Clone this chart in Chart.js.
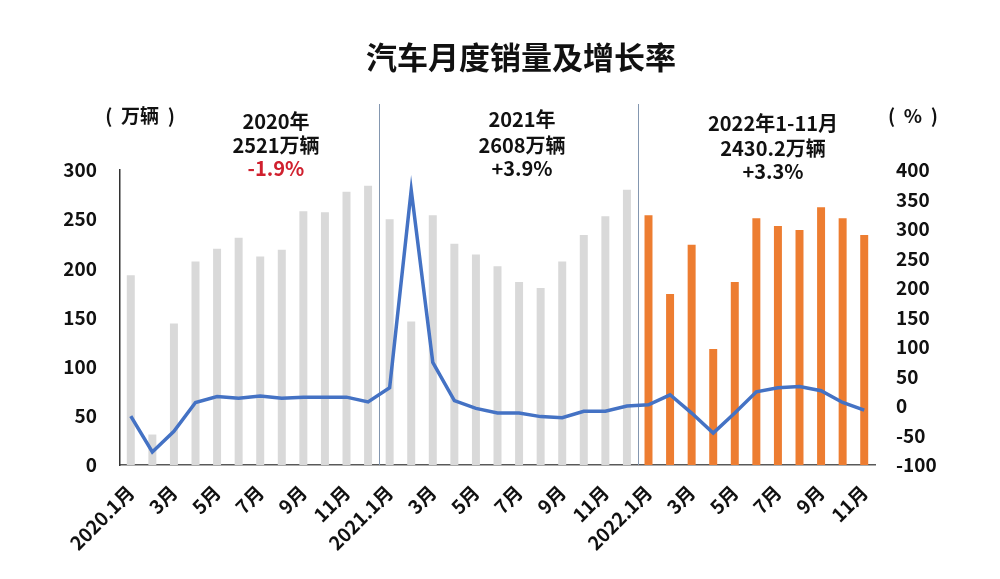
<!DOCTYPE html>
<html>
<head>
<meta charset="utf-8">
<script src="https://cdn.jsdelivr.net/npm/chart.js@4/dist/chart.umd.min.js"></script>
<style>
  html, body { margin: 0; padding: 0; background: #ffffff; }
  #wrap { width: 1000px; height: 579px; position: relative; }
</style>
</head>
<body>
<div id="wrap"><canvas id="c" width="1000" height="579"></canvas></div>
<script>
// ---- data ----
const categories = [
  '2020.1月','2月','3月','4月','5月','6月','7月','8月','9月','10月','11月','12月',
  '2021.1月','2月','3月','4月','5月','6月','7月','8月','9月','10月','11月','12月',
  '2022.1月','2月','3月','4月','5月','6月','7月','8月','9月','10月','11月'
];
const sales2020 = [193, 31, 144, 207, 220, 231, 212, 219, 258, 257, 278, 284];
const sales2021 = [250, 146, 254, 225, 214, 202, 186, 180, 207, 234, 253, 280];
const sales2022 = [254, 174, 224, 118, 186, 251, 243, 239, 262, 251, 234];
const growth2020 = [-17, -78, -43, 6, 16, 13, 17, 13, 15, 15, 15, 7];
const growth2021 = [31, 366, 74, 9, -4, -12, -12, -18, -20, -9, -9, 0];
const growth2022 = [2, 19, -12, -46, -12, 24, 31, 33, 26, 6, -7];
const leftTicks = { min: 0, max: 300, step: 50 };
const rightTicks = { min: -100, max: 400, step: 50 };
const titleText = '汽车月度销量及增长率';
const leftUnit = '(  万辆  )';
const rightUnit = '(  %  )';
const yearNotes = [
  ['2020年', '2521万辆', '-1.9%'],
  ['2021年', '2608万辆', '+3.9%'],
  ['2022年1-11月', '2430.2万辆', '+3.3%']
];

// ---- derived ----
const sales = sales2020.concat(sales2021, sales2022);
const growth = growth2020.concat(growth2021, growth2022);
const GREY = '#d9d9d9', ORANGE = '#ed7d31';
const barColors = sales.map((v, i) => i < sales2020.length + sales2021.length ? GREY : ORANGE);
const FONT = "'Noto Sans CJK SC', 'Noto Sans', sans-serif";

const overlay = {
  id: 'overlay',
  beforeDatasetsDraw(chart) {
    const ctx = chart.ctx;
    const x = chart.scales.x;
    const area = chart.chartArea;
    const b1 = sales2020.length, b2 = sales2020.length + sales2021.length;
    ctx.save();
    ctx.strokeStyle = '#8497b0';
    ctx.lineWidth = 1;
    [b1, b2].forEach(b => {
      const px = Math.round((x.getPixelForValue(b - 1) + x.getPixelForValue(b)) / 2) + 0.5;
      ctx.beginPath();
      ctx.moveTo(px, 104);
      ctx.lineTo(px, area.bottom);
      ctx.stroke();
    });
    ctx.restore();
  },
  afterDraw(chart) {
    const ctx = chart.ctx;
    ctx.save();
    ctx.textAlign = 'center';
    ctx.textBaseline = 'middle';
    ctx.fillStyle = '#111';
    ctx.font = 'bold 31px ' + FONT;
    ctx.fillText(titleText, 521, 57);

    ctx.font = 'bold 19px ' + FONT;
    ctx.fillText(leftUnit, 140, 116);
    ctx.fillText(rightUnit, 913, 116);

    const centers = [276, 522, 773];
    const rows = [[121, 145, 168], [119, 145, 168], [123, 148, 171]];
    ctx.font = 'bold 20px ' + FONT;
    yearNotes.forEach((lines, k) => {
      lines.forEach((t, j) => {
        ctx.fillStyle = (k === 0 && j === 2) ? '#d0202e' : '#111';
        ctx.fillText(t, centers[k], rows[k][j]);
      });
    });
    ctx.restore();
  }
};

new Chart(document.getElementById('c'), {
  data: {
    labels: categories,
    datasets: [
      {
        type: 'line',
        label: '增长率',
        data: growth,
        yAxisID: 'y1',
        borderColor: '#4472c4',
        borderWidth: 3.5,
        pointRadius: 0,
        tension: 0,
        order: 0
      },
      {
        type: 'bar',
        label: '销量',
        data: sales,
        yAxisID: 'y',
        backgroundColor: barColors,
        barPercentage: 0.37,
        categoryPercentage: 1,
        order: 1
      }
    ]
  },
  options: {
    responsive: false,
    animation: false,
    layout: { padding: { top: 170, left: 0, right: 0, bottom: 0 } },
    plugins: {
      legend: { display: false },
      tooltip: { enabled: false },
      title: { display: false }
    },
    scales: {
      x: {
        grid: { display: false },
        border: { display: true, color: '#595959', width: 1.5 },
        ticks: {
          autoSkip: false,
          minRotation: 45,
          maxRotation: 45,
          padding: 8,
          color: '#111',
          font: { family: FONT, size: 19, weight: 'bold' },
          callback: function (v, i) { return i % 2 === 0 ? categories[i] : ''; }
        },
        afterFit(s) { s.height = 114; }
      },
      y: {
        position: 'left',
        min: leftTicks.min, max: leftTicks.max,
        grid: { display: false, drawTicks: false },
        border: { display: true, color: '#333', width: 1.5 },
        ticks: {
          stepSize: leftTicks.step,
          padding: 23,
          color: '#111',
          font: { family: FONT, size: 19, weight: 'bold' }
        },
        afterFit(s) { s.width = 120; }
      },
      y1: {
        position: 'right',
        min: rightTicks.min, max: rightTicks.max,
        grid: { display: false, drawTicks: false },
        border: { display: false },
        ticks: {
          stepSize: rightTicks.step,
          padding: 21,
          color: '#111',
          font: { family: FONT, size: 19, weight: 'bold' }
        },
        afterFit(s) { s.width = 125; }
      }
    }
  },
  plugins: [overlay]
});
</script>
</body>
</html>
